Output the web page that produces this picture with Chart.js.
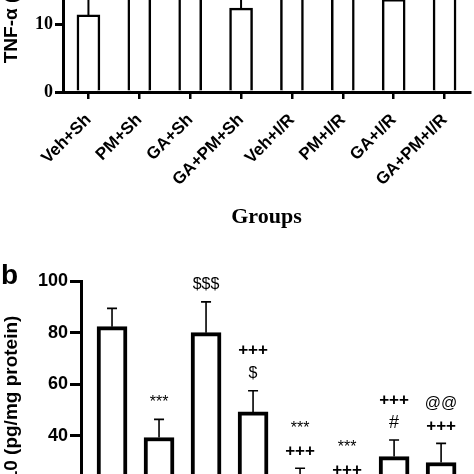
<!DOCTYPE html>
<html>
<head>
<meta charset="utf-8">
<script src="https://cdn.jsdelivr.net/npm/chart.js@4.4.1/dist/chart.umd.min.js"></script>
<style>
  html, body { margin: 0; padding: 0; background: #fff; overflow: hidden; width: 474px; height: 474px; }
  #wrapA { position: absolute; left: 0; top: -185px; width: 474px; height: 425px; }
  #wrapB { position: absolute; left: 0; top: 261px; width: 474px; height: 291px; }
  #panelB { position: absolute; left: 1px; top: 259px; font: bold 28px "Liberation Sans", Arial, sans-serif; color: #000; }
</style>
</head>
<body>
<div id="wrapA"><canvas id="chartA"></canvas></div>
<div id="wrapB"><canvas id="chartB"></canvas></div>
<div id="panelB">b</div>
<script>
const groups = ["Veh+Sh", "PM+Sh", "GA+Sh", "GA+PM+Sh", "Veh+I/R", "PM+I/R", "GA+I/R", "GA+PM+I/R"];

// panel a (only the lower part is visible)
const tnfMean = [11.4, 14.8, 15.2, 12.4, 31.5, 25.0, 13.7, 21.0];
const tnfSd = [3.0, 2.5, 2.8, 2.2, 4.0, 3.5, 2.5, 3.0];

// panel b (only the upper part is visible)
const il10Mean = [82.3, 39.4, 80.0, 49.3, 22.0, 17.0, 32.0, 29.7];
const il10Sd = [7.1, 7.0, 11.9, 8.2, 5.5, 3.0, 6.4, 7.4];
const il10Marks = [[], ["***"], ["$$$"], ["$", "+++"], ["+++", "***"], ["+++", "***"], ["#", "+++"], ["+++", "@@"]];

const sans = '"Liberation Sans", Arial, sans-serif';
const serif = '"Liberation Serif", "Times New Roman", serif';

const errorBars = {
  id: "errorBars",
  afterDatasetsDraw(chart, args, opts) {
    const ctx = chart.ctx;
    const y = chart.scales.y;
    const meta = chart.getDatasetMeta(0);
    ctx.save();
    ctx.strokeStyle = "#000";
    ctx.lineWidth = opts.width;
    meta.data.forEach((bar, i) => {
      const y0 = y.getPixelForValue(opts.mean[i]);
      const y1 = y.getPixelForValue(opts.mean[i] + opts.sd[i]);
      ctx.beginPath();
      ctx.moveTo(bar.x, y0);
      ctx.lineTo(bar.x, y1);
      ctx.moveTo(bar.x - opts.cap, y1);
      ctx.lineTo(bar.x + opts.cap, y1);
      ctx.stroke();
    });
    ctx.restore();
  }
};

const marks = {
  id: "marks",
  afterDatasetsDraw(chart, args, opts) {
    if (!opts.labels) return;
    const ctx = chart.ctx;
    const y = chart.scales.y;
    const meta = chart.getDatasetMeta(0);
    ctx.save();
    ctx.fillStyle = "#000";
    ctx.textAlign = "center";
    ctx.textBaseline = "middle";
    meta.data.forEach((bar, i) => {
      const top = y.getPixelForValue(opts.mean[i] + opts.sd[i]);
      opts.labels[i].forEach((t, j) => {
        if (t === "+++") ctx.font = "bold 17px " + sans;
        else if (t === "#") ctx.font = "18px " + sans;
        else ctx.font = "16px " + sans;
        ctx.fillText(t, bar.x, top - 17 - j * 23);
      });
    });
    ctx.restore();
  }
};

new Chart(document.getElementById("chartA"), {
  type: "bar",
  data: {
    labels: groups,
    datasets: [{
      data: tnfMean,
      backgroundColor: "#fff",
      borderColor: "#000",
      borderWidth: 2.5,
      barThickness: 23
    }]
  },
  options: {
    responsive: true,
    maintainAspectRatio: false,
    animation: false,
    layout: { padding: { top: 20, right: 4, left: 0, bottom: 0 } },
    plugins: {
      legend: { display: false },
      tooltip: { enabled: false },
      errorBars: { mean: tnfMean, sd: tnfSd, width: 2, cap: 5 }
    },
    scales: {
      x: {
        grid: { display: true, drawOnChartArea: false, offset: false, tickLength: 7, color: "#000", lineWidth: 2.5 },
        border: { display: true, color: "#000", width: 3 },
        ticks: { color: "#000", font: { family: sans, size: 17, weight: "bold" }, maxRotation: 45, minRotation: 45, autoSkip: false, padding: 11 },
        title: { display: true, text: "Groups", color: "#000", font: { family: serif, size: 22, weight: "bold" }, padding: { top: 0, bottom: 9 } },
        afterFit(s) { s.height = 148; }
      },
      y: {
        min: 0,
        max: 38,
        ticks: { stepSize: 10, color: "#000", font: { family: serif, size: 18, weight: "bold" }, padding: 2 },
        grid: { drawOnChartArea: false, tickLength: 8, color: "#000", lineWidth: 3 },
        border: { display: true, color: "#000", width: 3 },
        title: { display: true, text: "TNF-α (pg/mg protein)", color: "#000", font: { family: sans, size: 19, weight: "bold" }, padding: 0 },
        afterFit(s) { s.width = 63; }
      }
    }
  },
  plugins: [errorBars]
});

new Chart(document.getElementById("chartB"), {
  type: "bar",
  data: {
    datasets: [{
      data: il10Mean.map((v, i) => ({ x: i, y: v })),
      backgroundColor: "#fff",
      borderColor: "#000",
      borderWidth: 4,
      barThickness: 30
    }]
  },
  options: {
    responsive: true,
    maintainAspectRatio: false,
    animation: false,
    layout: { padding: { top: 20, right: 0, left: 0, bottom: 10 } },
    plugins: {
      legend: { display: false },
      tooltip: { enabled: false },
      errorBars: { mean: il10Mean, sd: il10Sd, width: 1.6, cap: 5 },
      marks: { mean: il10Mean, sd: il10Sd, labels: il10Marks }
    },
    scales: {
      x: { type: "linear", min: -0.66, max: 7.7, offset: false, display: false },
      y: {
        min: 0,
        max: 100,
        ticks: { stepSize: 20, color: "#000", font: { family: sans, size: 18, weight: "bold" }, padding: 2 },
        grid: { drawOnChartArea: false, tickLength: 11, color: "#000", lineWidth: 3 },
        border: { display: true, color: "#000", width: 3 },
        title: { display: true, text: "IL-10 (pg/mg protein)", color: "#000", font: { family: sans, size: 19, weight: "bold" }, padding: 0 },
        afterFit(s) { s.width = 81; }
      }
    }
  },
  plugins: [errorBars, marks]
});
</script>
</body>
</html>
